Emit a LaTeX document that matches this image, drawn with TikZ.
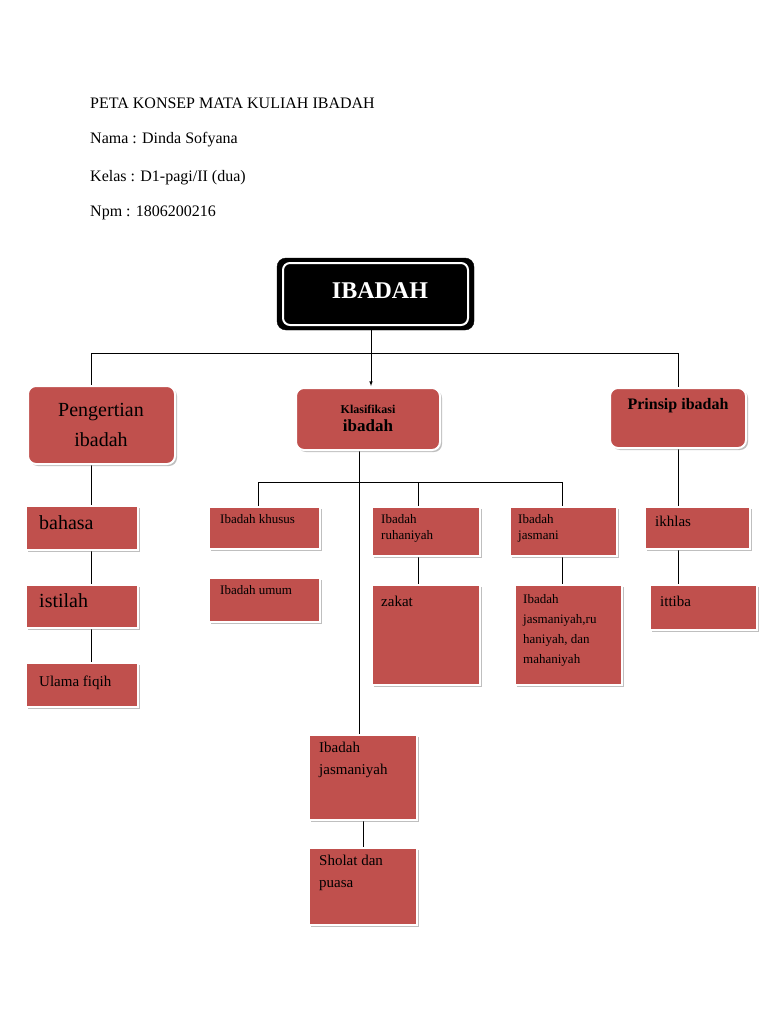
\documentclass[tikz,border=0pt]{standalone}
\usepackage{fontspec}
\setmainfont{Liberation Serif}
\usetikzlibrary{shadows}
\definecolor{rb}{HTML}{C0504D}
\tikzset{
 bx/.style={draw=white,line width=1.2pt,fill=rb,drop shadow={shadow xshift=2pt,shadow yshift=-2pt,opacity=0.5},inner sep=0pt},
 rbx/.style={bx,rounded corners=8pt,line width=2pt},
 ln/.style={draw=black,line width=0.6pt},
 lab/.style={anchor=north west,align=left,inner sep=0pt,font=\fontsize{13}{16}\selectfont}
}
\newcommand{\bxr}[5]{\path[bx] (#1,#2) rectangle (#3,#4); \node[lab] (#5) at (#1+10,#2+10) {};}
\begin{document}
\begin{tikzpicture}[x=1pt,y=-1pt]
\useasboundingbox[fill=white] (0,0) rectangle (768,1024);
\foreach \t/\y in {{PETA KONSEP MATA KULIAH IBADAH}/103,{Nama : Dinda Sofyana}/140,{Kelas : D1-pagi/II (dua)}/178,{Npm : 1806200216}/213}
 \node[anchor=west,inner sep=0pt,font=\fontsize{16}{18}\selectfont] at (90,\y) {\t};
% main
\node[draw=black,fill=black,rounded corners=9pt,minimum width=197pt,minimum height=72pt] (ib) at (375.5,294) {};
\node[draw=white,line width=2pt,rounded corners=7pt,minimum width=185pt,minimum height=62pt] at (375.5,294) {};
\node[text=white,font=\bfseries\fontsize{24}{26}\selectfont] at (380,291) {IBADAH};
% connectors
\coordinate (j1) at (91,353); \coordinate (j2) at (678,353);
\draw[ln] (91,386) -- (j1) -- (j2) -- (678,388);
\draw[ln,-latex] (371,330) -- (371,386);
\draw[ln] (91,464) -- (91,506);
\draw[ln] (91,550) -- (91,585);
\draw[ln] (91,628) -- (91,663);
\draw[ln] (359,450) -- (359,735);
\draw[ln] (258,507) -- (258,482) -- (562,482) -- (562,507);
\draw[ln] (418,482) -- (418,507);
\draw[ln] (418,556) -- (418,585);
\draw[ln] (562,556) -- (562,585);
\draw[ln] (363,820) -- (363,848);
\draw[ln] (678,448) -- (678,507);
\draw[ln] (678,549) -- (678,585);
% rounded
\path[rbx] (28,386) rectangle (175,464);
\node[align=center,font=\fontsize{20}{30}\selectfont] (pg) at (101,425) {Pengertian\\ibadah};
\path[rbx] (296,388) rectangle (440,450);
\node[align=center,font=\bfseries\fontsize{12}{18}\selectfont] (kl) at (368,418) {Klasifikasi\\{\fontsize{17}{20}\selectfont ibadah}};
\path[rbx] (610,388) rectangle (746,448);
\node[font=\bfseries\fontsize{16}{18}\selectfont] (pr) at (678,406) {Prinsip ibadah};
% boxes
\path[bx] (26,506) rectangle (138,550); \node[lab,font=\fontsize{20}{22}\selectfont] (bh) at (39,515) {bahasa};
\path[bx] (26,585) rectangle (138,628); \node[lab,font=\fontsize{20}{22}\selectfont] (is) at (39,593) {istilah};
\path[bx] (26,663) rectangle (138,707); \node[lab,font=\fontsize{15}{18}\selectfont] (ul) at (39,676) {Ulama fiqih};
\path[bx] (209,507) rectangle (320,549); \node[lab] (ik) at (220,514) {Ibadah khusus};
\path[bx] (209,578) rectangle (320,622); \node[lab] (iu) at (220,585) {Ibadah umum};
\path[bx] (372,507) rectangle (480,556); \node[lab] (ir) at (381,514) {Ibadah\\ruhaniyah};
\path[bx] (372,585) rectangle (480,685); \node[lab,font=\fontsize{15}{18}\selectfont] (zk) at (381,596) {zakat};
\path[bx] (510,507) rectangle (617,556); \node[lab] (ij) at (518,514) {Ibadah\\jasmani};
\path[bx] (515,585) rectangle (622,685); \node[lab,font=\fontsize{13}{20}\selectfont] (ijr) at (523,594) {Ibadah\\jasmaniyah,ru\\haniyah, dan\\mahaniyah};
\path[bx] (309,735) rectangle (417,820); \node[lab,font=\fontsize{15}{22}\selectfont] (ijs) at (319,742) {Ibadah\\jasmaniyah};
\path[bx] (309,848) rectangle (417,925); \node[lab,font=\fontsize{15}{22}\selectfont] (sp) at (319,855) {Sholat dan\\puasa};
\path[bx] (645,507) rectangle (750,549); \node[lab,font=\fontsize{15}{18}\selectfont] (ikh) at (655,516) {ikhlas};
\path[bx] (650,585) rectangle (757,630); \node[lab,font=\fontsize{15}{18}\selectfont] (it) at (660,596) {ittiba};
\end{tikzpicture}
\end{document}
